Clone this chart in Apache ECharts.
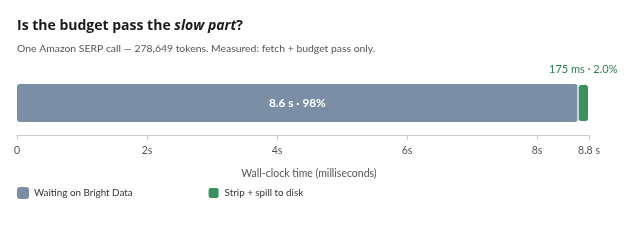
<!DOCTYPE html>
<html><head><meta charset="utf-8">
<script src="https://cdn.jsdelivr.net/npm/echarts@6/dist/echarts.min.js"></script>
<style>html,body{margin:0;padding:0;background:#fff}#c{width:640px;height:247px}</style>
</head><body><div id="c"></div>
<script>
const categories = ['SERP call'];
const seriesNames = ['Waiting on Bright Data', 'Strip + spill to disk'];
const waitingMs = [8625];
const stripMs = [175];
const waitingLabel = '8.6 s · 98%';
const stripLabel = '175 ms · 2.0%';
const axisMaxMs = 8800;
const tickIntervalMs = 2000;

const FONT = '"Open Sans", "Noto Sans", sans-serif';
const SMALL = 'Lato, "Open Sans", sans-serif';
const chart = echarts.init(document.getElementById('c'), null, {renderer: 'canvas'});
chart.setOption({
  animation: false,
  textStyle: {fontFamily: SMALL},
  title: [{
    left: 17, top: 19, padding: 0,
    text: '{b|Is the budget pass the }{bi|slow part}{b|?}',
    textStyle: {rich: {
      b: {fontFamily: FONT, fontSize: 14, fontWeight: 'bold', color: '#1a1a1a'},
      bi: {fontFamily: FONT, fontSize: 14, fontWeight: 'bold', fontStyle: 'italic', color: '#1a1a1a'}
    }}
  }, {
    left: 17, top: 44, padding: 0,
    text: 'One Amazon SERP call — 278,649 tokens. Measured: fetch + budget pass only.',
    textStyle: {fontFamily: SMALL, fontSize: 10.4, fontWeight: 'normal', color: '#555'}
  }],
  legend: {
    left: 17, top: 186, padding: 0, itemWidth: 12, itemHeight: 12, itemGap: 74,
    icon: 'roundRect',
    textStyle: {fontFamily: SMALL, fontSize: 9.8, color: '#333'},
    data: seriesNames
  },
  grid: {left: 17, right: 51, top: 71, bottom: 112},
  xAxis: {
    type: 'value', min: 0, max: axisMaxMs, interval: tickIntervalMs,
    splitLine: {show: false},
    axisLine: {show: true, lineStyle: {color: '#ccc'}},
    axisTick: {show: true, length: 5, lineStyle: {color: '#ccc'}},
    axisLabel: {
      color: '#555', fontSize: 10.5, margin: 10, fontFamily: SMALL,
      showMaxLabel: true,
      formatter: v => v === 0 ? '0' : (v === axisMaxMs ? (v / 1000).toFixed(1) + ' s' : (v / 1000) + 's')
    },
    name: 'Wall-clock time (milliseconds)',
    nameLocation: 'middle', nameGap: 33,
    nameTextStyle: {color: '#555', fontSize: 10.5, fontFamily: SMALL, padding: [0, 0, 0, 12]}
  },
  yAxis: {type: 'category', data: categories, show: false},
  series: [{
    name: seriesNames[0], type: 'bar', stack: 't', barWidth: 38,
    data: waitingMs,
    itemStyle: {color: '#7a8fa6', borderRadius: 3},
    label: {show: true, position: 'inside', formatter: waitingLabel,
      color: '#fff', fontSize: 11.8, fontWeight: 'bold', fontFamily: SMALL}
  }, {
    name: seriesNames[1], type: 'bar', stack: 't', barWidth: 38,
    data: stripMs,
    itemStyle: {color: '#3a9160', borderRadius: 3, borderColor: '#fff', borderWidth: 1},
    label: {show: true, position: 'top', distance: 9, formatter: stripLabel,
      color: '#2e7d4f', fontSize: 11, fontFamily: SMALL}
  }]
});
</script></body></html>
